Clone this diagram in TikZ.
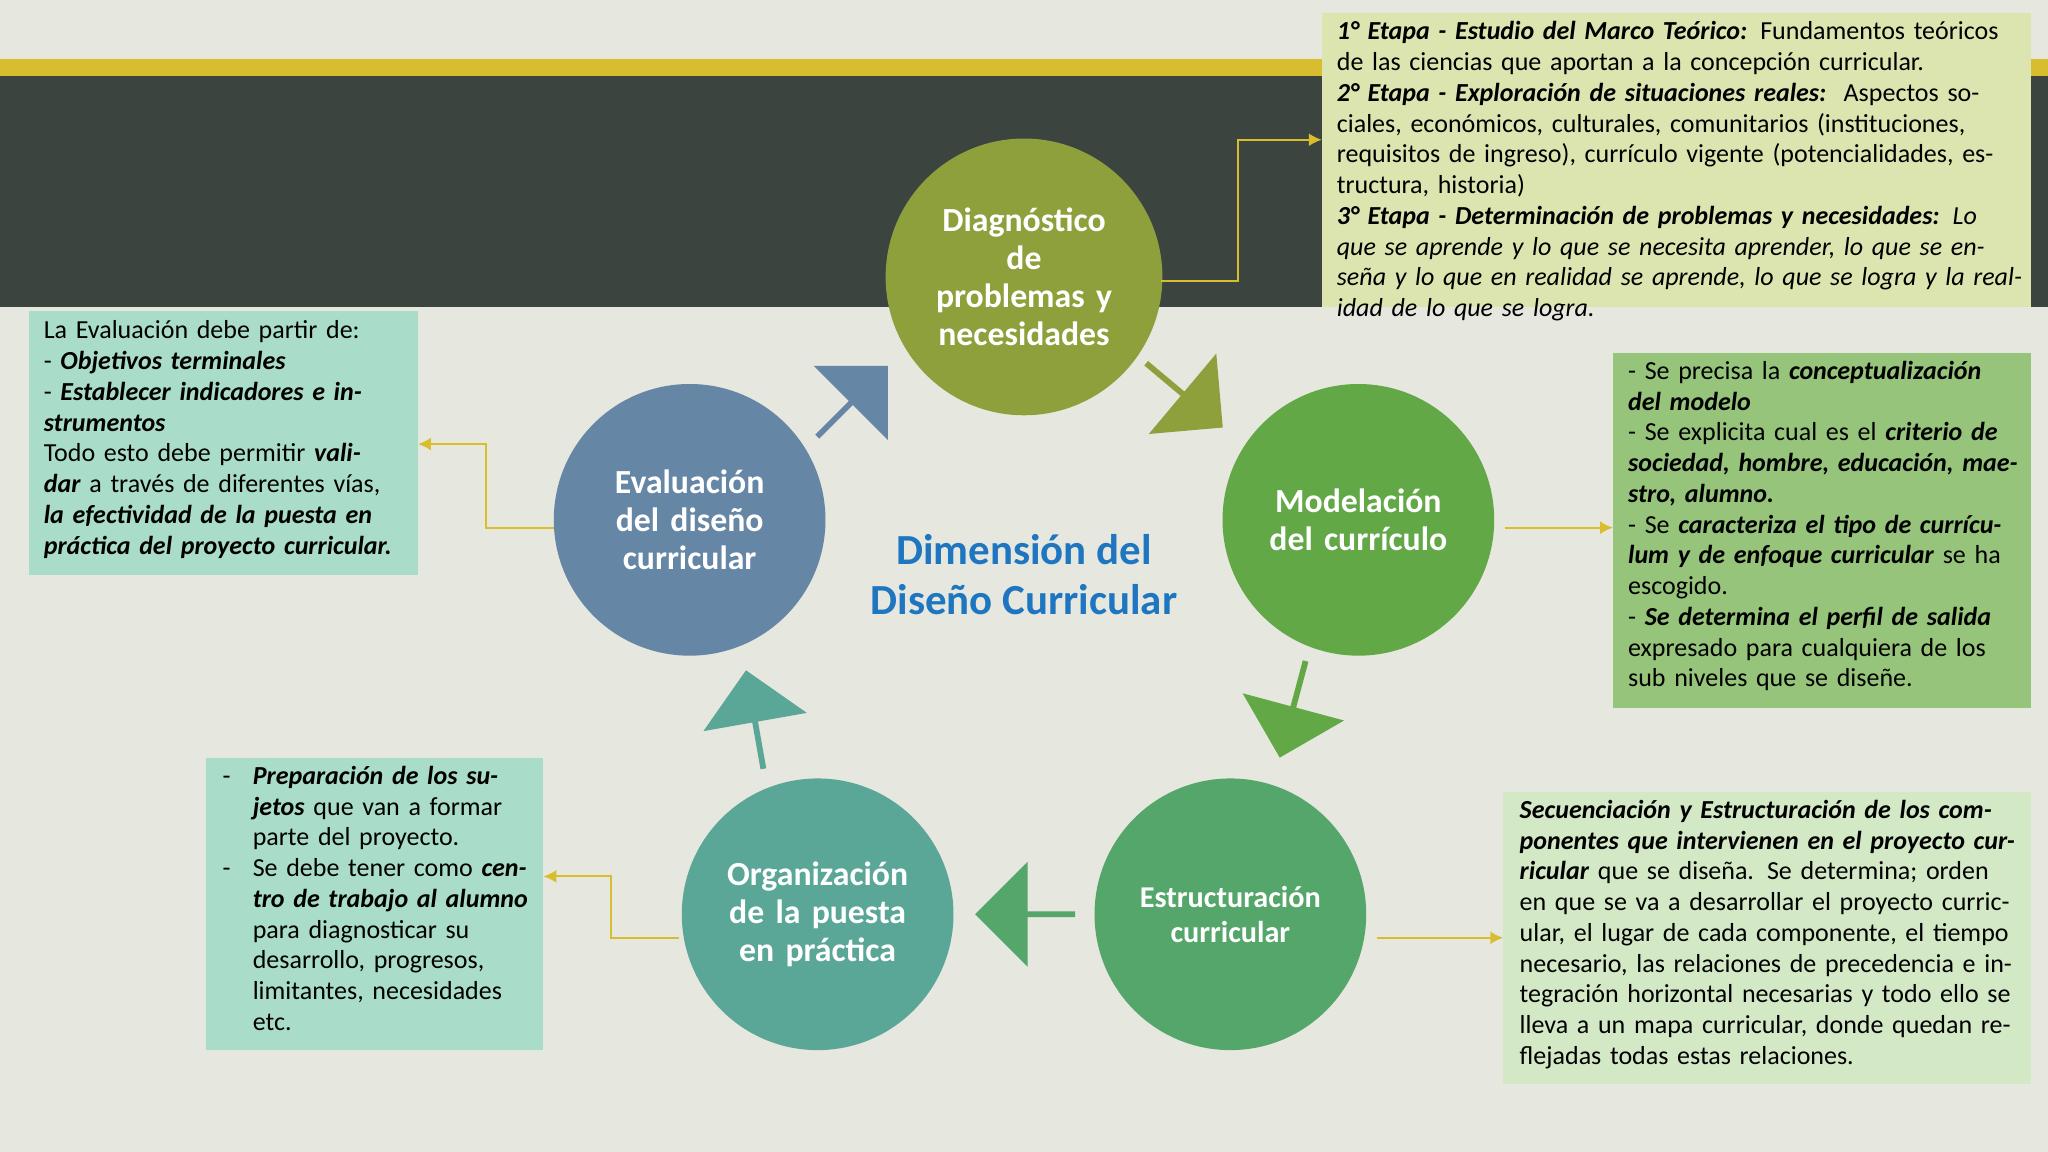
\documentclass[tikz,border=0pt]{standalone}
\usepackage{fontspec}
\setmainfont{Carlito}
\usetikzlibrary{shapes.arrows}
\definecolor{bg}{HTML}{E6E7DF}
\definecolor{board}{HTML}{3C4440}
\definecolor{ylw}{HTML}{D8BE2E}
\definecolor{cDiag}{HTML}{8EA03C}
\definecolor{cMod}{HTML}{62A847}
\definecolor{cEst}{HTML}{55A66A}
\definecolor{cOrg}{HTML}{5AA797}
\definecolor{cEva}{HTML}{6686A5}
\definecolor{ttl}{HTML}{1F76C0}
\definecolor{bTR}{HTML}{DCE5B0}
\definecolor{bMint}{HTML}{A9DDC9}
\definecolor{bGreen}{HTML}{95C47A}
\definecolor{bLight}{HTML}{D3E8C5}
\tikzset{
 circ/.style={circle,minimum size={208*0.01306cm},inner sep=0pt,text=white,font=\fontsize{9.6}{10.8}\selectfont\bfseries,align=center,text width=2.4cm},
 box/.style={anchor=north west,inner sep=0pt,align=left,font=\fontsize{7.4}{8.75}\selectfont},
 link/.style={ylw,line width=0.6pt,-{Latex[length=1.3mm,width=1.3mm]}},
 blk/.style={single arrow,minimum height=1.0cm,minimum width=1.05cm,single arrow head extend=0.12cm,inner sep=0pt,draw=none},
}
\usetikzlibrary{arrows.meta}
\begin{document}
\begin{tikzpicture}[x=0.01306cm,y=-0.01306cm]
\fill[bg] (0,0) rectangle (1568,882);
\useasboundingbox (0,0) rectangle (1568,882);
\fill[board] (0,58) rectangle (1568,235);
\fill[ylw] (0,45) rectangle (1568,58);
% top-right box
\fill[bTR] (1012,10) rectangle (1555,235);
\node[box,text width={525*0.01306cm}] (tr) at (1023,16) {\textbf{\textit{1° Etapa - Estudio del Marco Teórico:}} Fundamentos teóricos de las ciencias que aportan a la concepción curricular.\\
\textbf{\textit{2° Etapa - Exploración de situaciones reales:}}\ \ Aspectos sociales, económicos, culturales, comunitarios (instituciones, requisitos de ingreso), currículo vigente (potencialidades, estructura, historia)\\
\textbf{\textit{3° Etapa - Determinación de problemas y necesidades:}} \textit{Lo que se aprende y lo que se necesita aprender, lo que se enseña y lo que en realidad se aprende, lo que se logra y la realidad de lo que se logra.}};
% circles
\node[circ,fill=cDiag] (diag) at (784,212) {Diagnóstico\\de\\problemas y\\necesidades};
\node[circ,fill=cMod] (mod) at (1040,398) {Modelación\\del currículo};
\node[circ,fill=cEst,font=\fontsize{8.6}{10}\selectfont\bfseries] (est) at (942,700) {Estructuración\\curricular};
\node[circ,fill=cOrg] (org) at (626,700) {Organización\\de la puesta\\en práctica};
\node[circ,fill=cEva] (eva) at (528,398) {Evaluación\\del diseño\\curricular};
\node[text=ttl,font=\fontsize{12.2}{14.2}\selectfont\bfseries,align=center] (title) at (784,440) {Dimensión del\\Diseño Curricular};
% block arrows
\node[blk,fill=cEva,rotate=45] (a1) at (652,308) {};
\node[blk,fill=cDiag,rotate=-40] (a2) at (906,302) {};
\node[blk,fill=cMod,rotate=-105] (a3) at (990,542) {};
\node[blk,fill=cEst,rotate=180] (a4) at (786,700) {};
\node[blk,fill=cOrg,rotate=100] (a5) at (578,552) {};
% boxes
\fill[bMint] (22,238) rectangle (320,440);
\node[box,text width={275*0.01306cm}] (lb) at (33,245) {La Evaluación debe partir de:\\
- \textbf{\textit{Objetivos terminales}}\\
- \textbf{\textit{Establecer indicadores e instrumentos}}\\
Todo esto debe permitir \textbf{\textit{validar}} a través de diferentes vías, \textbf{\textit{la efectividad de la puesta en práctica del proyecto curricular.}}};
\fill[bGreen] (1235,270) rectangle (1555,542);
\node[box,text width={302*0.01306cm}] (rb) at (1246,276) {- Se precisa la \textbf{\textit{conceptualización del modelo}}\\
- Se explicita cual es el \textbf{\textit{criterio de sociedad, hombre, educación, maestro, alumno.}}\\
- Se \textbf{\textit{caracteriza el tipo de currículum y de enfoque curricular}} se ha escogido.\\
- \textbf{\textit{Se determina el perfil de salida}} expresado para cualquiera de los sub niveles que se diseñe.};
\fill[bMint] (158,580) rectangle (416,804);
\node[box,text width={240*0.01306cm}] (bl) at (170,586) {%
\begin{minipage}[t]{240\dimexpr0.01306cm\relax}\fontsize{7.4}{8.75}\selectfont
\hangindent=23\dimexpr0.01306cm\relax\hangafter=1
\makebox[23\dimexpr0.01306cm\relax][l]{-}\textbf{\textit{Preparación de los sujetos}} que van a formar parte del proyecto.\par
\hangindent=23\dimexpr0.01306cm\relax\hangafter=1
\makebox[23\dimexpr0.01306cm\relax][l]{-}Se debe tener como \textbf{\textit{centro de trabajo al alumno}}\ \ para diagnosticar su desarrollo, progresos, limitantes, necesidades etc.\par
\end{minipage}};
\fill[bLight] (1151,606) rectangle (1555,830);
\node[box,text width={385*0.01306cm}] (br) at (1163,612) {\textbf{\textit{Secuenciación y Estructuración de los componentes que intervienen en el proyecto curricular}} que se diseña. Se determina; orden en que se va a desarrollar el proyecto curricular, el lugar de cada componente, el tiempo necesario, las relaciones de precedencia e integración horizontal necesarias y todo ello se lleva a un mapa curricular, donde quedan reflejadas todas estas relaciones.};
% connectors
\coordinate (tTR) at (1012,107);
\coordinate (tRB) at (1235,404);
\coordinate (tBR) at (1151,718);
\coordinate (tBL) at (416,671);
\coordinate (tLB) at (320,340);
\draw[link] (889,215) -- (948,215) |- (tTR);
\draw[link] (1152,404) -- (tRB);
\draw[link] (1054,718) -- (tBR);
\draw[link] (520,718) -- (468,718) |- (tBL);
\draw[link] (424,404) -- (372,404) |- (tLB);
\end{tikzpicture}
\end{document}
